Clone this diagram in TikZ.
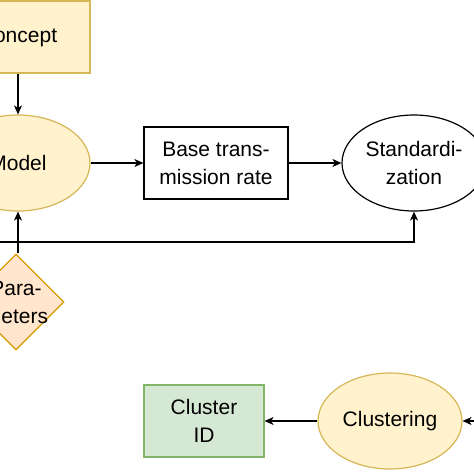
\documentclass[tikz,border=0pt]{standalone}
\usepackage{fontspec}
\setmainfont{Liberation Sans}
\usetikzlibrary{shapes.geometric,arrows.meta}
\definecolor{yelfill}{HTML}{FFF2CC}
\definecolor{yeldraw}{HTML}{D6B656}
\definecolor{orfill}{HTML}{FFE6CC}
\definecolor{ordraw}{HTML}{D79B00}
\definecolor{grfill}{HTML}{D5E8D4}
\definecolor{grdraw}{HTML}{82B366}
\begin{document}
\begin{tikzpicture}[x=1pt,y=-1pt]
 \tikzset{directed/.style={-{Stealth[length=9pt,width=8pt,inset=2.5pt]}},
  every node/.style={font=\fontsize{21}{28}\selectfont, align=center, line width=1.2pt},
  box/.style={draw, rectangle, minimum width=144pt, minimum height=72pt, inner sep=0pt},
  oval/.style={draw, ellipse, minimum width=144pt, minimum height=96pt, inner xsep=-20pt, inner ysep=-10pt},
  rhomb/.style={draw, diamond, minimum width=96pt, minimum height=96pt, inner sep=-15pt}}
  \useasboundingbox (0,0) rectangle (474,474);
  \node[box, draw=yeldraw, fill=yelfill] (A) at (18,37) {Concept};
  \node[oval, draw=yeldraw, fill=yelfill] (B) at (18,163) {Model};
  \node[box] (C) at (216,163) {Base trans-\\mission rate};
  \node[oval] (D) at (414,163) {Standardi-\\zation};
  \node[rhomb, draw=ordraw, fill=orfill] (E) at (16,302) {Para-\\meters};
  \node[oval, draw=yeldraw, fill=yelfill] (F) at (390,421) {Clustering};
  \node[box, minimum width=120pt, draw=grdraw, fill=grfill] (G) at (204,421) {Cluster\\ID};
  \coordinate (H) at (-30,242);
  \coordinate (K) at (500,421);
  \draw[line width=1.2pt, directed] (A) -- (B);
  \draw[line width=1.2pt, directed] (B) -- (C);
  \draw[line width=1.2pt, directed] (C) -- (D);
  \draw[line width=1.2pt, directed] (E.north -| B) -- (B);
  \draw[line width=1.2pt, directed] (H) -| (D);
  \draw[line width=1.2pt, directed] (K) -- (F);
  \draw[line width=1.2pt, directed] (F) -- (G);
\end{tikzpicture}
\end{document}
